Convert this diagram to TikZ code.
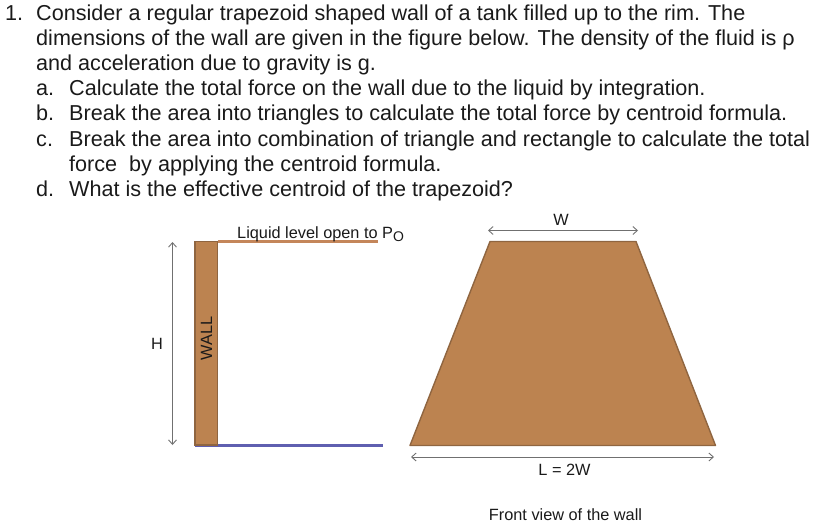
\documentclass[tikz,border=0pt]{standalone}
\usepackage{fontspec}
\setmainfont{Liberation Sans}
\usetikzlibrary{arrows.meta}
\definecolor{wallfill}{HTML}{BC8350}
\definecolor{walledge}{HTML}{8F6540}
\definecolor{lvlcol}{HTML}{C4865A}
\definecolor{basecol}{HTML}{5F5FB0}
\definecolor{txt}{HTML}{1A1A1A}
\definecolor{dimcol}{HTML}{707070}
\tikzset{
 px/.style={x=1pt,y=-1pt},
 body/.style={anchor=base west,inner sep=0pt,font=\fontsize{21.6}{25}\selectfont,text=txt},
 lab/.style={inner sep=0pt,font=\fontsize{16.3}{18}\selectfont,text=txt},
 dimline/.style={draw=dimcol,line width=0.9pt,{Straight Barb[length=4.5pt,width=8pt]}-{Straight Barb[length=4.5pt,width=8pt]}},
 wallshape/.style={fill=wallfill,draw=walledge,line width=1.4pt},
 levelline/.style={draw=lvlcol,line width=2.1pt},
 baseline/.style={draw=basecol,line width=2.1pt}
}
\begin{document}
\begin{tikzpicture}[px]
\useasboundingbox (0,0) rectangle (814,525);
\node[body] (t1) at (5,20.5) {1.};
\node[body] (t2) at (36,20.5) {Consider a regular trapezoid shaped wall of a tank filled up to the rim. The};
\node[body] (t3) at (36,45.5) {dimensions of the wall are given in the figure below. The density of the fluid is ρ};
\node[body] (t4) at (36,70.5) {and acceleration due to gravity is g.};
\node[body] (t5) at (36,95.5) {a.};
\node[body] (t5b) at (69,95.5) {Calculate the total force on the wall due to the liquid by integration.};
\node[body] (t6) at (36,120.5) {b.};
\node[body] (t6b) at (69,120.5) {Break the area into triangles to calculate the total force by centroid formula.};
\node[body] (t7) at (36,146) {c.};
\node[body] (t7b) at (69,146) {Break the area into combination of triangle and rectangle to calculate the total};
\node[body] (t8) at (69,171) {force\ \ by applying the centroid formula.};
\node[body] (t9) at (36,196) {d.};
\node[body] (t9b) at (69,196) {What is the effective centroid of the trapezoid?};
% side view
\coordinate (lvlS) at (218,241.5);
\coordinate (lvlE) at (378,241.5);
\draw[levelline] (lvlS) -- (lvlE);
\coordinate (baseS) at (195,445.5);
\coordinate (baseE) at (383,445.5);
\draw[baseline] (baseS) -- (baseE);
\draw[wallshape] (195,241.5) rectangle (217.5,445);
\node[lab,rotate=90] (walllab) at (206.5,338.5) {WALL};
\node[lab,anchor=base west] (liq) at (237,238) {Liquid level open to P\textsubscript{\fontsize{14}{14}\selectfont O}};
\coordinate (hT) at (172.5,242);
\coordinate (hB) at (172.5,445);
\draw[dimline] (hT) -- (hB);
\node[lab] (H) at (157,344) {H};
% front view
\draw[wallshape,line join=round] (490,241.5) -- (636,241.5) -- (715.5,445.5) -- (410,445.5) -- cycle;
\coordinate (wL) at (488,230.5);
\coordinate (wR) at (638,230.5);
\draw[dimline] (wL) -- (wR);
\node[lab] (W) at (561,219.5) {W};
\coordinate (lL) at (411,457);
\coordinate (lR) at (714,457);
\draw[dimline] (lL) -- (lR);
\node[lab] (L) at (564.5,470) {L = 2W};
\node[lab] (fv) at (565.5,514.5) {Front view of the wall};
\end{tikzpicture}
\end{document}
